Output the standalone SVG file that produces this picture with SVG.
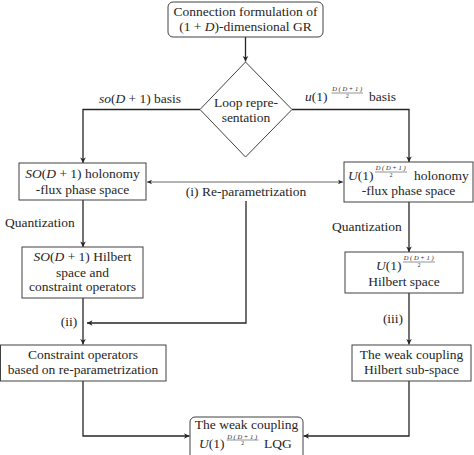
<svg xmlns="http://www.w3.org/2000/svg" width="474" height="455" viewBox="0 0 474 455" font-family="'Liberation Serif', 'Times New Roman', 'DejaVu Serif', serif">
<defs>
<style>
text{font-family:'Liberation Serif','Times New Roman','DejaVu Serif',serif;font-size:13.5px;fill:#262626;}
.c{text-anchor:middle;}
.i{font-style:italic;}
.fr{font-size:6.5px;font-style:italic;letter-spacing:1.7px;text-anchor:middle;}
.fn{font-size:5.5px;text-anchor:middle;}
.box{fill:#fff;stroke:#404040;stroke-width:1;}
.ln{fill:none;stroke:#262626;stroke-width:1.3;}
.thin{fill:none;stroke:#262626;stroke-width:0.7;}
.fl{stroke:#262626;stroke-width:0.5;}
</style>
<marker id="ah" markerUnits="userSpaceOnUse" markerWidth="8" markerHeight="8" refX="6" refY="4" orient="auto">
<path d="M0.5,1.2 L6,4 L0.5,6.8 L2,4 z" fill="#262626"/>
</marker>
<marker id="ahs" markerUnits="userSpaceOnUse" markerWidth="8" markerHeight="8" refX="6" refY="4" orient="auto-start-reverse">
<path d="M1,1.8 L6,4 L1,6.2 L2.3,4 z" fill="#262626"/>
</marker>
</defs>
<rect width="474" height="455" fill="#fff"/>
<g id="connectors">
<path class="ln" d="M245.5,37 V61.5" marker-end="url(#ah)"/>
<path class="ln" d="M200,109.5 H83 V163" marker-end="url(#ah)"/>
<path class="ln" d="M292,109.5 H409 V162" marker-end="url(#ah)"/>
<path class="thin" d="M147,182 H343" marker-start="url(#ahs)" marker-end="url(#ahs)"/>
<path class="ln" d="M246,201 V323 H87" marker-end="url(#ah)"/>
<path class="ln" d="M83,200 V247" marker-end="url(#ah)"/>
<path class="ln" d="M83,298 V344.5" marker-end="url(#ah)"/>
<path class="ln" d="M83,381 V436 H189.5" marker-end="url(#ah)"/>
<path class="ln" d="M409,202 V252" marker-end="url(#ah)"/>
<path class="ln" d="M409,293 V344.5" marker-end="url(#ah)"/>
<path class="ln" d="M409,381 V436 H303.5" marker-end="url(#ah)"/>
<text x="140" y="103" class="c"><tspan class="i">so</tspan>(<tspan class="i">D</tspan> + 1) basis</text>
<text x="305" y="101"><tspan class="i">u</tspan>(1)</text>
<text x="348" y="91" class="fr">D(D+1)</text>
<line class="fl" x1="331.5" y1="93" x2="363" y2="93"/>
<text x="347.3" y="98" class="fn">2</text>
<text x="369" y="101">basis</text>
<text x="246" y="196" class="c">(i) Re-parametrization</text>
<text x="5" y="227">Quantization</text>
<text x="332" y="231">Quantization</text>
<text x="69" y="326" class="c">(ii)</text>
<text x="393" y="323" class="c">(iii)</text>
</g>
<g id="n-top">
<rect class="box" x="168" y="2" width="155" height="35" rx="5"/>
<text x="245.5" y="15.5" class="c">Connection formulation of</text>
<text x="245.5" y="30.5" class="c">(1 + <tspan class="i">D</tspan>)-dimensional GR</text>
</g>
<g id="n-loop">
<polygon class="box" points="245.5,62 292,109.5 245.5,157 200,109.5"/>
<text x="246" y="107" class="c">Loop repre-</text>
<text x="246" y="122" class="c">sentation</text>
</g>
<g id="n-so-phase">
<rect class="box" x="19" y="163" width="127" height="37"/>
<text x="82.5" y="178" class="c"><tspan class="i">SO</tspan>(<tspan class="i">D</tspan> + 1) holonomy</text>
<text x="82.5" y="194" class="c">-flux phase space</text>
</g>
<g id="n-u-phase">
<rect class="box" x="344" y="162" width="129" height="40"/>
<text x="348" y="180"><tspan class="i">U</tspan>(1)</text>
<text x="391.5" y="170" class="fr">D(D+1)</text>
<line class="fl" x1="375" y1="172" x2="407" y2="172"/>
<text x="391" y="177" class="fn">2</text>
<text x="414" y="180">holonomy</text>
<text x="408.5" y="195" class="c">-flux phase space</text>
</g>
<g id="n-so-hilbert">
<rect class="box" x="22" y="247" width="121" height="51"/>
<text x="82.5" y="261" class="c"><tspan class="i">SO</tspan>(<tspan class="i">D</tspan> + 1) Hilbert</text>
<text x="82.5" y="277" class="c">space and</text>
<text x="82.5" y="291" class="c">constraint operators</text>
</g>
<g id="n-u-hilbert">
<rect class="box" x="345" y="252" width="118" height="41"/>
<text x="376" y="270"><tspan class="i">U</tspan>(1)</text>
<text x="419.5" y="260" class="fr">D(D+1)</text>
<line class="fl" x1="403" y1="262" x2="435" y2="262"/>
<text x="419" y="267" class="fn">2</text>
<text x="404" y="286" class="c">Hilbert space</text>
</g>
<g id="n-constraint">
<rect class="box" x="0.5" y="345" width="165.5" height="36"/>
<text x="83" y="359" class="c">Constraint operators</text>
<text x="83" y="374" class="c">based on re-parametrization</text>
</g>
<g id="n-weak-sub">
<rect class="box" x="352" y="345" width="119" height="36"/>
<text x="411.5" y="359" class="c">The weak coupling</text>
<text x="411.5" y="374" class="c">Hilbert sub-space</text>
</g>
<g id="n-final">
<rect class="box" x="190" y="417" width="113" height="46" rx="5"/>
<text x="246.5" y="428.5" class="c">The weak coupling</text>
<text x="199" y="448"><tspan class="i">U</tspan>(1)</text>
<text x="243" y="438.5" class="fr">D(D+1)</text>
<line class="fl" x1="226.5" y1="440" x2="258.5" y2="440"/>
<text x="242.5" y="445" class="fn">2</text>
<text x="264" y="448">LQG</text>
</g>
</svg>
